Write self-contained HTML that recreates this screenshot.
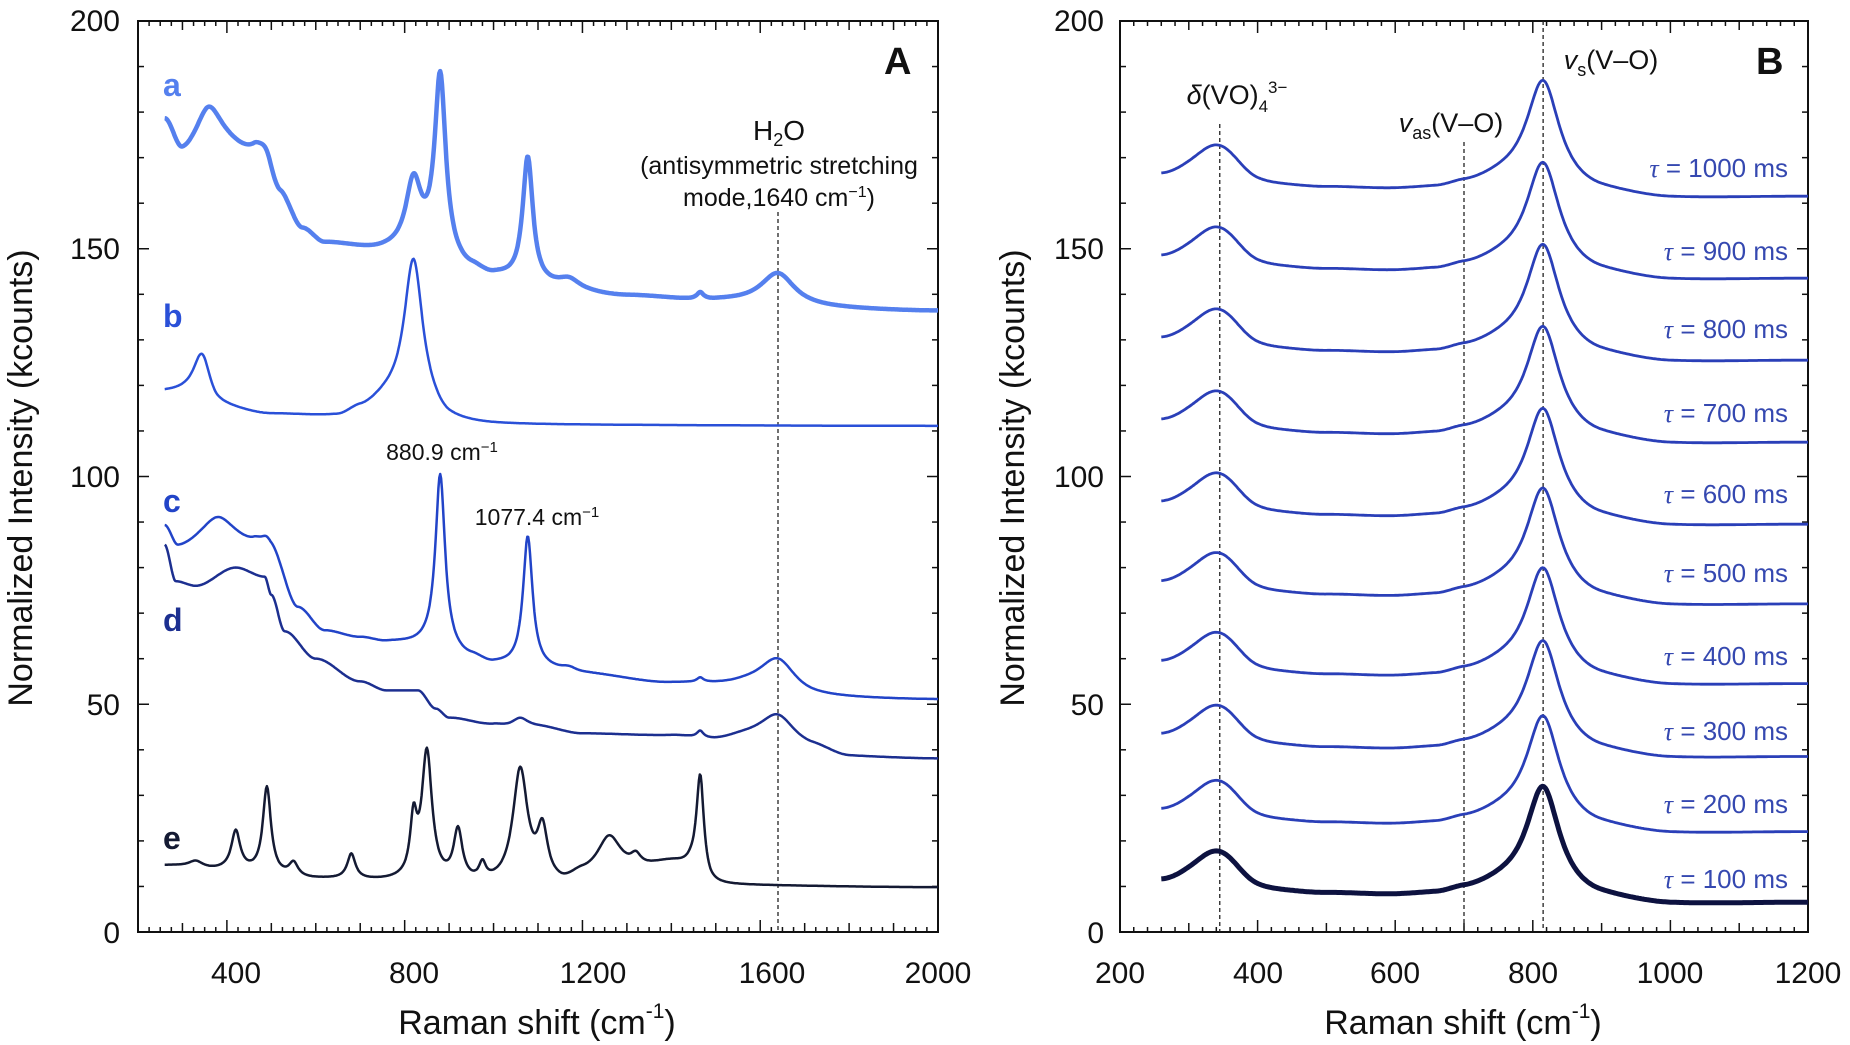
<!DOCTYPE html>
<html><head><meta charset="utf-8">
<style>
html,body{margin:0;padding:0;background:#fff;}
svg{display:block;font-family:"Liberation Sans",Arial,sans-serif;}
</style></head>
<body>
<svg id="s" width="1850" height="1045" viewBox="0 0 1850 1045" xmlns="http://www.w3.org/2000/svg">
<rect width="1850" height="1045" fill="#fff"/>
<g id="g"></g>
<g font-size="30" fill="#111">
<text x="120" y="31" text-anchor="end">200</text>
<text x="120" y="259" text-anchor="end">150</text>
<text x="120" y="487" text-anchor="end">100</text>
<text x="120" y="715" text-anchor="end">50</text>
<text x="120" y="943" text-anchor="end">0</text>
<text x="236" y="983" text-anchor="middle">400</text>
<text x="414" y="983" text-anchor="middle">800</text>
<text x="593" y="983" text-anchor="middle">1200</text>
<text x="772" y="983" text-anchor="middle">1600</text>
<text x="938" y="983" text-anchor="middle">2000</text>
<text x="1104" y="31" text-anchor="end">200</text>
<text x="1104" y="259" text-anchor="end">150</text>
<text x="1104" y="487" text-anchor="end">100</text>
<text x="1104" y="715" text-anchor="end">50</text>
<text x="1104" y="943" text-anchor="end">0</text>
<text x="1120" y="983" text-anchor="middle">200</text>
<text x="1258" y="983" text-anchor="middle">400</text>
<text x="1395" y="983" text-anchor="middle">600</text>
<text x="1533" y="983" text-anchor="middle">800</text>
<text x="1670" y="983" text-anchor="middle">1000</text>
<text x="1808" y="983" text-anchor="middle">1200</text>
</g>
<g font-size="34" fill="#111">
<text x="537" y="1034" text-anchor="middle">Raman shift (cm<tspan font-size="21" dy="-16">-1</tspan><tspan dy="16">)</tspan></text>
<text x="1463" y="1034" text-anchor="middle">Raman shift (cm<tspan font-size="21" dy="-16">-1</tspan><tspan dy="16">)</tspan></text>
<text transform="translate(32,478) rotate(-90)" text-anchor="middle">Normalized Intensity (kcounts)</text>
<text transform="translate(1024,478) rotate(-90)" text-anchor="middle">Normalized Intensity (kcounts)</text>
</g>
<g font-weight="bold" font-size="32">
<text x="163" y="96" fill="#5580ee">a</text>
<text x="163" y="327" fill="#2a50d8">b</text>
<text x="163" y="512" fill="#2244c8">c</text>
<text x="163" y="631" fill="#1c2f90">d</text>
<text x="163" y="849" fill="#141a33">e</text>
<text x="884" y="74" fill="#111" font-size="38">A</text>
<text x="1756" y="74" fill="#111" font-size="38">B</text>
</g>
<g font-size="25" fill="#111" text-anchor="middle">
<text x="779" y="140" font-size="28">H<tspan font-size="18" dy="6">2</tspan><tspan dy="-6">O</tspan></text>
<text x="779" y="174">(antisymmetric stretching</text>
<text x="779" y="206">mode,1640 cm<tspan font-size="16" dy="-9">−1</tspan><tspan dy="9">)</tspan></text>
<text x="442" y="460" font-size="23">880.9 cm<tspan font-size="15" dy="-8">−1</tspan></text>
<text x="537" y="525" font-size="23">1077.4 cm<tspan font-size="15" dy="-8">−1</tspan></text>
</g>
<g font-size="27" fill="#111" text-anchor="middle">
<text x="1237" y="104"><tspan font-style="italic">δ</tspan>(VO)<tspan font-size="17" dy="8">4</tspan><tspan font-size="17" dy="-19">3−</tspan></text>
<text x="1451" y="132"><tspan font-style="italic">v</tspan><tspan font-size="18" dy="7">as</tspan><tspan dy="-7">(V–O)</tspan></text>
<text x="1611" y="69"><tspan font-style="italic">v</tspan><tspan font-size="18" dy="7">s</tspan><tspan dy="-7">(V–O)</tspan></text>
</g>
<g font-size="26" fill="#3548b0" text-anchor="end" id="tl"></g>
</svg>
<script>
var NS="http://www.w3.org/2000/svg",g=document.getElementById('g');
function el(n,a){var e=document.createElementNS(NS,n);for(var k in a)e.setAttribute(k,a[k]);g.appendChild(e);return e;}
var Y0=932,Y1=21;function Y(v){return Y0-(Y0-Y1)*v/200;}
function XA(x){return 138+(x-200)*(938-138)/1800;}
function XB(x){return 1120+(x-200)*(1808-1120)/1000;}
function interp(pts,x){if(x<=pts[0][0])return pts[0][1];for(var i=1;i<pts.length;i++){if(x<=pts[i][0]){var a=pts[i-1],b=pts[i];var t=(x-a[0])/(b[0]-a[0]);t=t*t*(3-2*t);return a[1]+(b[1]-a[1])*t;}}return pts[pts.length-1][1];}
function val(c,x){var v=interp(c.b,x);c.p.forEach(function(p){var d=(x-p[0])/p[2];v+=p.length>3?p[1]*Math.exp(-d*d*0.693):p[1]/(1+d*d);});return v;}
function path(c,X,x0,x1,col,w){var d='';for(var x=x0;x<=x1;x+=2){d+=(x==x0?'M':'L')+X(x).toFixed(1)+','+Y(val(c,x)).toFixed(1);}el('path',{d:d,fill:'none',stroke:col,'stroke-width':w,'stroke-linejoin':'round'});}
function frame(x0,x1,X,xmin,xmax,minor,med,major){
 el('rect',{x:x0,y:Y1,width:x1-x0,height:Y0-Y1,fill:'none',stroke:'#111','stroke-width':2});
 for(var v=0;v<=200;v+=10){var L=v%50==0?11:6;var y=Y(v);el('line',{x1:x0,x2:x0+L,y1:y,y2:y,stroke:'#111','stroke-width':1.5});el('line',{x1:x1,x2:x1-L,y1:y,y2:y,stroke:'#111','stroke-width':1.5});}
 for(var v=xmin;v<=xmax;v+=minor){var L=v%major==0?12:(v%med==0?9:5);var x=X(v);el('line',{x1:x,x2:x,y1:Y0,y2:Y0-L,stroke:'#111','stroke-width':1.5});el('line',{x1:x,x2:x,y1:Y1,y2:Y1+L,stroke:'#111','stroke-width':1.5});}
}
frame(138,938,XA,200,2000,25,100,400);
frame(1120,1808,XB,200,1200,20,100,200);
el('line',{x1:XA(1640),x2:XA(1640),y1:212,y2:Y0,stroke:'#222','stroke-width':1.3,'stroke-dasharray':'4,3'});
el('line',{x1:XB(345),x2:XB(345),y1:124,y2:Y0,stroke:'#222','stroke-width':1.3,'stroke-dasharray':'4,3'});
el('line',{x1:XB(700),x2:XB(700),y1:142,y2:Y0,stroke:'#222','stroke-width':1.3,'stroke-dasharray':'4,3'});
el('line',{x1:XB(815),x2:XB(815),y1:Y1,y2:Y0,stroke:'#222','stroke-width':1.3,'stroke-dasharray':'4,3'});
var A={b:[[260,178],[300,171],[360,175],[460,171],[520,161],[570,154],[620,151],[750,149.5],[850,149],[950,145],[1000,143.5],[1100,141.5],[1300,139.5],[1500,138.3],[1700,136.8],[2000,136.3]],
 p:[[880,39,15],[820,15,21],[1077,28,14],[1640,7.5,48],[490,5,20],[360,6,32],[1170,2,28],[1465,1.5,9]]};
var B={b:[[260,118.5],[330,118.5],[380,115],[500,113.5],[650,113],[700,114.5],[760,116],[850,113],[900,111.5],[1000,111.3],[2000,111.1]],
 p:[[345,9,23],[820,34,26]]};
var C={b:[[260,89],[290,84.5],[380,88],[460,85.5],[500,83],[560,71],[620,66],[700,64.5],[760,63.5],[850,63],[950,60],[1000,58.5],[1100,57.5],[1200,56.5],[1400,54.5],[1550,54],[1720,51.3],[2000,51]],
 p:[[880,38,13],[1077,29,13],[1640,7.5,50],[490,3,16],[380,3,40],[1170,1,22],[1465,1,9]]};
var D={b:[[260,85],[285,77],[330,76],[420,80],[485,78],[500,74],[530,66],[600,60],[700,55],[760,53],[830,53],[870,49],[900,47],[1000,45.5],[1040,45],[1100,45],[1200,43.5],[1400,43],[1500,42],[1560,42.5],[1720,40],[1800,38.3],[2000,38]],
 p:[[1640,6.5,48],[1060,2,22],[1465,1.5,9]]};
var E={b:[[260,14.5],[380,13.5],[600,11.5],[780,11],[1000,10],[1150,10],[1200,12],[1300,13],[1400,15],[1440,14.5],[1490,10.2],[2000,9.8]],
 p:[[420,8.5,12],[490,19,11],[550,3,12],[680,5.5,11],[820,12,9],[850,28,14],[920,11,12],[975,3.5,9],[1060,25,20],[1110,11,14],[1260,8,32],[1320,2.5,14],[1465,22,10],[330,1.5,20]]};
path(A,XA,260,2000,'#5580ee',4.5);
path(B,XA,260,2000,'#2a50d8',2.5);
path(C,XA,260,2000,'#2244c8',2.5);
path(D,XA,260,2000,'#1c2f90',2.5);
path(E,XA,260,2000,'#141a33',2.5);
var offs=[12,27.5,44,60,77.5,95,113,131,149,167];
offs.forEach(function(s,i){
 var c={b:[[260,s-0.5],[300,s+0.3],[400,s-2.5],[500,s-3.5],[600,s-4],[660,s-3.8],[700,s-3],[760,s-2],[900,s-5],[1000,s-6],[1200,s-5.6]],
   p:[[345,6.5,34,1],[815,23,29]]};
 path(c,XB,260,1200,i==0?'#0d1240':'#2a3fb8',i==0?5:2.8);
});
var tl=document.getElementById('tl'),ys=[879,804,731,656,573,494,413,329,251,168],names=[100,200,300,400,500,600,700,800,900,1000];
ys.forEach(function(y,i){var t=document.createElementNS(NS,'text');t.setAttribute('x',1788);t.setAttribute('y',y+9);t.innerHTML='<tspan font-family="Liberation Serif,serif" font-style="italic">τ</tspan> = '+names[i]+' ms';tl.appendChild(t);});
</script>
</body></html>
